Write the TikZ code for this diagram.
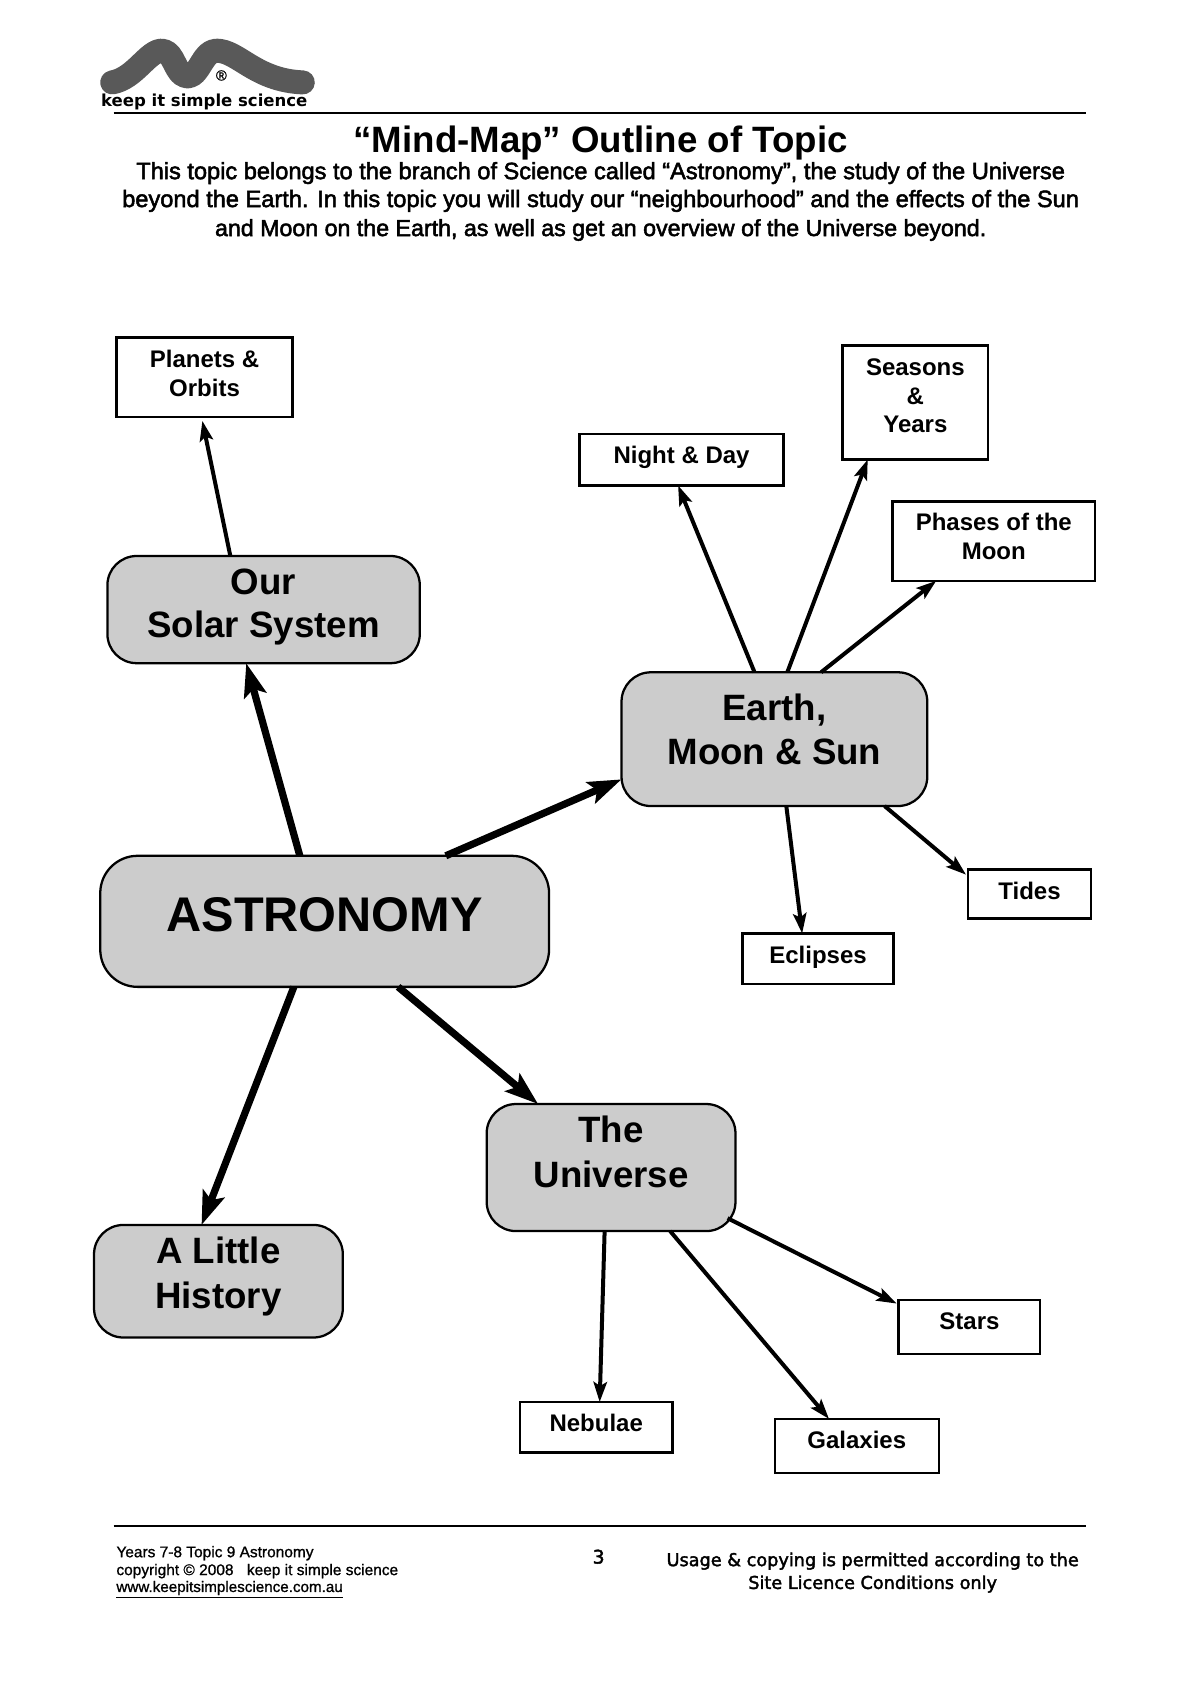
\documentclass[tikz,border=0pt]{standalone}
\usepackage{fontspec}
\usetikzlibrary{arrows.meta}
\setmainfont{Liberation Sans}
\newfontfamily\semib[FakeBold=2.2]{Liberation Sans}
\newfontfamily\semic[FakeBold=1]{Liberation Sans}
\newfontfamily\djv[FakeBold=2.2]{DejaVu Sans}
\newfontfamily\djb{DejaVu Sans}
\newcommand{\mystack}[2]{\raisebox{#1}[\height][\depth]{\begin{tabular}{@{}c@{}}#2\end{tabular}}}
\tikzset{
  dx/.style={xshift=#1*0.7446pt},
  dy/.style={yshift=#1*0.7446pt},
  bigbox/.style={draw=black,fill=black!20,line width=1.7pt,rounded corners=22pt,inner sep=0pt,outer sep=0pt,align=center},
  smallbox/.style={draw=black,fill=white,line width=1.8pt,inner sep=0pt,outer sep=0pt,align=center},
  mainfont/.style={font=\bfseries\fontsize{27.5}{32.5}\selectfont},
  leaffont/.style={font=\bfseries\fontsize{18}{21.5}\selectfont},
  bodyline/.style={inner sep=0pt,font=\semib\fontsize{17.7}{20}\selectfont},
  heavy/.style={line width=5.4pt,-{Stealth[length=25pt,width=17pt,inset=5pt]}},
  light/.style={line width=3pt,-{Stealth[length=15pt,width=10pt,inset=3pt]}},
  rule/.style={line width=1.7pt}
}
\begin{document}
\begin{tikzpicture}[x=0.7446pt,y=-0.7446pt]
\useasboundingbox (0,0) rectangle (1208.7,1710.3);
% logo
\draw[line width=18pt,line cap=round,line join=round,color=black!65]
  (113,83) .. controls (136,79) and (149,51) .. (163,51)
  .. controls (176,51) and (176,77) .. (189,77)
  .. controls (201,77) and (204,51) .. (218,51)
  .. controls (240,51) and (257,81) .. (305,83);
\node[anchor=base west,inner sep=0pt,font=\djb\bfseries\fontsize{12.4}{14}\selectfont] (logotext) at (101.5,107) {keep it simple science};
\node[inner sep=0pt,font=\semic\fontsize{11}{12}\selectfont] (regmark) at (223,76) {®};
\coordinate (r1a) at (114.5,113.5); \coordinate (r1b) at (1094,113.5);
\draw[rule] (r1a) -- (r1b);
% heading
\node[inner sep=0pt,font=\bfseries\fontsize{27.5}{30}\selectfont] (title) at (605,144.2) {“Mind-Map” Outline of Topic};
\node[bodyline] (l1) at (605,174.3) {This topic belongs to the branch of Science called “Astronomy”, the study of the Universe};
\node[bodyline] (l2) at (605,202.4) {beyond the Earth. In this topic you will study our “neighbourhood” and the effects of the Sun};
\node[bodyline,font=\semib\fontsize{17.4}{20}\selectfont] (l3) at (605,231.7) {and Moon on the Earth, as well as get an overview of the Universe beyond.};
% main boxes
\node[bigbox,rounded corners=28pt,minimum width=336.6pt,minimum height=98.3pt,font=\bfseries\fontsize{36.5}{40}\selectfont] (astro) at (327,928) {\mystack{0.5pt}{ASTRONOMY}};
\node[bigbox,mainfont,minimum width=234.3pt,minimum height=80.4pt] (solar) at (265.5,614) {\mystack{1.6pt}{Our\\Solar System}};
\node[bigbox,mainfont,minimum width=229.3pt,minimum height=100.3pt] (earth) at (780,744.5) {\mystack{4pt}{Earth,\\Moon \& Sun}};
\node[bigbox,font=\bfseries\fontsize{27.5}{34}\selectfont,minimum width=186.6pt,minimum height=95.3pt] (universe) at (615.5,1176) {\mystack{8.5pt}{The\\Universe}};
\node[bigbox,font=\bfseries\fontsize{27.5}{34}\selectfont,minimum width=186.6pt,minimum height=84.4pt] (history) at (220,1290.5) {\mystack{3pt}{A Little\\History}};
% leaf boxes
\node[smallbox,leaffont,minimum width=132pt,minimum height=59.6pt] (planets) at (206,380) {\mystack{0.8pt}{Planets \&\\Orbits}};
\node[smallbox,leaffont,minimum width=109.2pt,minimum height=85.4pt] (seasons) at (922,405.5) {\mystack{3pt}{Seasons\\\&\\Years}};
\node[smallbox,leaffont,minimum width=152.9pt,minimum height=38.7pt] (night) at (686.5,463) {\mystack{1.6pt}{Night \& Day}};
\node[smallbox,leaffont,minimum width=151.9pt,minimum height=59.6pt] (phases) at (1001,545) {\mystack{1.6pt}{Phases of the\\Moon}};
\node[smallbox,leaffont,minimum width=92.3pt,minimum height=36.7pt] (tides) at (1037,900.5) {\mystack{0pt}{Tides}};
\node[smallbox,leaffont,minimum width=113.2pt,minimum height=37.7pt] (eclipses) at (824,965.5) {\mystack{0.8pt}{Eclipses}};
\node[smallbox,leaffont,minimum width=106.2pt,minimum height=40.7pt] (stars) at (976.5,1336.5) {\mystack{2.4pt}{Stars}};
\node[smallbox,leaffont,minimum width=123.1pt,minimum height=40.7pt] (galaxies) at (863,1456.5) {\mystack{2.6pt}{Galaxies}};
\node[smallbox,leaffont,minimum width=114.2pt,minimum height=37.7pt] (nebulae) at (600.5,1437.5) {\mystack{0.8pt}{Nebulae}};
% connectors
\draw[heavy] ([dx=-25]astro.north) -- ([dx=-17.5]solar.south);
\draw[heavy] ([dx=122]astro.north) -- ([dy=-40.5]earth.west);
\draw[heavy] ([dx=74]astro.south) -- ([dx=-73.5]universe.north);
\draw[heavy] ([dx=-31]astro.south) -- ([dx=-17]history.north);
\draw[light,shorten >=3pt] ([dx=-33.5]solar.north) -- ([dx=-3]planets.south);
\draw[light] ([dx=-20]earth.north) -- ([dx=-3.5]night.south);
\draw[light] ([dx=13]earth.north) -- ([dx=-48]seasons.south);
\draw[light] ([dx=47]earth.north) -- ([dx=-58]phases.south);
\draw[light] ([dx=111]earth.south) -- ([dy=19.5,dx=-2]tides.west);
\draw[light] ([dx=12]earth.south) -- ([dx=-16]eclipses.north);
\draw[light] ([dy=-51,dx=-8]universe.east) -- ([dy=23.5,dx=-2]stars.west);
\draw[light] ([dx=59.5]universe.south) -- ([dx=-28]galaxies.north);
\draw[light] ([dx=-6.5]universe.south) -- ([dx=3.5]nebulae.north);
% footer
\coordinate (r2a) at (114.5,1537); \coordinate (r2b) at (1094,1537);
\draw[rule] (r2a) -- (r2b);
\node[anchor=base west,inner sep=0pt,font=\semic\fontsize{11.6}{13}\selectfont] (f1) at (117,1568.5) {Years 7-8 Topic 9 Astronomy};
\node[anchor=base west,inner sep=0pt,font=\semic\fontsize{11.6}{13}\selectfont] (f2) at (117,1586.5) {copyright © 2008\hspace{10pt}keep it simple science};
\node[anchor=base west,inner sep=0pt,font=\semic\fontsize{11.4}{13}\selectfont] (f3) at (117,1603.5) {\underline{www.keepitsimplescience.com.au}};
\node[inner sep=0pt,font=\djv\fontsize{14}{16}\selectfont] (pagenum) at (603,1568) {3};
\node[inner sep=0pt,font=\djv\fontsize{13.25}{16}\selectfont] (u1) at (879,1572.5) {Usage \& copying is permitted according to the};
\node[inner sep=0pt,font=\djv\fontsize{13.25}{16}\selectfont] (u2) at (879,1595.5) {Site Licence Conditions only};
\end{tikzpicture}
\end{document}
